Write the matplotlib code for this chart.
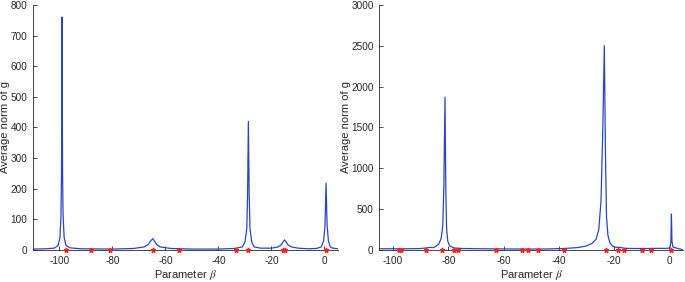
import matplotlib
matplotlib.use('Agg')
import matplotlib.pyplot as plt

# left panel: curve samples and red star positions
left_x = [-110, -105, -102, -100.5, -99.8, -99.4, -99.2, -99.0, -98.8, -98.6, -98.2, -97.5, -96, -92,
          -80, -72, -68, -66.5, -65.5, -64.8, -64.2, -63.3, -62, -58, -50, -40, -34, -31, -30, -29.3,
          -29.0, -28.7, -28.4, -28.1, -27.4, -26.5, -24, -20, -17.5, -16.3, -15.5, -15.05, -14.6, -13.8,
          -12.5, -10, -6, -3, -1.2, -0.3, 0.2, 0.6, 1.0, 1.5, 2.2, 3.2, 5]
left_y = [3, 4, 6, 14, 40, 110, 250, 760, 250, 110, 40, 15, 7, 4,
          3, 5, 10, 18, 30, 37, 30, 18, 10, 5, 3, 3, 5, 10, 25, 70,
          180, 420, 180, 70, 25, 10, 6, 6, 10, 17, 28, 33, 28, 17,
          10, 6, 4, 5, 10, 30, 80, 218, 80, 30, 10, 6, 4]
left_stars = [-97.6, -88.1, -80.8, -64.5, -55.0, -33.5, -28.7, -15.8, -14.9, 0.4]

# right panel
right_x = [-105, -100, -95, -90, -88, -86.5, -85.5, -84.5, -83.5, -82.6, -82.0, -81.6, -81.2, -80.9,
           -80.6, -80.2, -79.5, -78, -75, -65, -55, -45, -38, -33, -30, -28, -26.5, -25.5, -24.7,
           -24.1, -23.5, -23.1, -22.7, -22.2, -21.5, -20.5, -19.5, -17.5, -16, -12, -8, -4, -1,
           0.3, 0.6, 0.8, 1.0, 1.4, 3, 5]
right_y = [15, 15, 15, 18, 25, 32, 28, 45, 70, 140, 300, 800, 1870, 700,
           250, 110, 50, 25, 18, 14, 12, 12, 18, 30, 50, 80, 130, 250, 600,
           1400, 2500, 1200, 400, 180, 90, 45, 35, 30, 20, 18, 18, 20, 20,
           25, 100, 440, 100, 35, 20, 2]
right_stars = [-98.0, -97.3, -88.0, -82.2, -78.1, -76.5, -62.9, -53.3, -51.2, -47.6, -38.2,
               -22.8, -18.7, -16.5, -9.9, -6.6, 0.6]

plt.rcParams['font.family'] = ['Liberation Sans', 'DejaVu Sans']
plt.rcParams['mathtext.fontset'] = 'stix'
plt.rcParams['axes.unicode_minus'] = False

gray = '#262626'
fig = plt.figure(figsize=(6.85, 2.82), dpi=100)
ax1 = fig.add_axes([0.048, 0.1135, 0.445, 0.869])
ax2 = fig.add_axes([0.5537, 0.1135, 0.4434, 0.869])

panels = [
    (ax1, left_x, left_y, left_stars, (-110, 5), (0, 800), range(0, 801, 100)),
    (ax2, right_x, right_y, right_stars, (-105, 5), (0, 3000), range(0, 3001, 500)),
]
for ax, xs, ys, stars, xl, yl, yt in panels:
    ax.plot(xs, ys, color='#2b45c0', linewidth=0.9)
    ax.plot(stars, [0] * len(stars), linestyle='none', marker='*', color='#ff2020',
            markersize=3.5, clip_on=False, zorder=3)
    ax.set_xlim(*xl)
    ax.set_ylim(*yl)
    ax.set_xticks(range(-100, 1, 20))
    ax.set_yticks(list(yt))
    ax.spines['top'].set_visible(False)
    ax.spines['right'].set_visible(False)
    for s in ('left', 'bottom'):
        ax.spines[s].set_color(gray)
        ax.spines[s].set_linewidth(0.6)
    ax.tick_params(direction='in', length=3, width=0.6, color=gray, labelcolor=gray,
                   labelsize=7.2)
    ax.tick_params(axis='x', pad=4.5)
    ax.tick_params(axis='y', pad=4)
    ax.set_xlabel(r'Parameter $\beta$', fontsize=8, color=gray, labelpad=1.5)
    ax.set_ylabel('Average norm of g', fontsize=8, color=gray, labelpad=0.5)

fig.savefig('out.png', dpi=100)
